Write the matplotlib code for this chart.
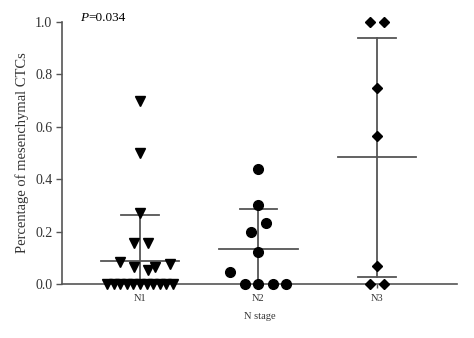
import matplotlib
matplotlib.use('Agg')
import matplotlib.pyplot as plt

groups = ['N1', 'N2', 'N3']

# individual points: (x offset within group, value)
n1_offsets = [0, 0, 0, -0.05, 0.07, -0.17, -0.05, 0.07, 0.13, 0.25,
              -0.28, -0.22, -0.17, -0.11, -0.06, 0, 0.06, 0.11, 0.17, 0.22, 0.28]
n1_values = [0.70, 0.50, 0.27, 0.155, 0.155, 0.083, 0.066, 0.053, 0.066, 0.076,
             0, 0, 0, 0, 0, 0, 0, 0, 0, 0, 0]
n2_offsets = [0, 0, 0.06, -0.06, 0, -0.24, -0.11, 0, 0.12, 0.23]
n2_values = [0.44, 0.30, 0.232, 0.20, 0.121, 0.047, 0, 0, 0, 0]
n3_offsets = [-0.06, 0.06, 0, 0, 0, -0.06, 0.06]
n3_values = [1.0, 1.0, 0.75, 0.565, 0.07, 0, 0]

means = [0.089, 0.132, 0.483]
sd_upper = [0.265, 0.287, 0.94]
sd_lower = [0.0, 0.0, 0.025]

fig = plt.figure(figsize=(4.74, 3.38), dpi=100)
ax = fig.add_axes([62 / 474, 1 - 284 / 338, (457 - 62) / 474, (284 - 22) / 338])

plt.rcParams['font.family'] = ['Liberation Serif', 'DejaVu Serif']
line_col = '#555555'
text_col = '#333333'

for i in range(3):
    x = i + 1
    ax.plot([x, x], [sd_lower[i], sd_upper[i]], color=line_col, lw=1.3, zorder=2)
    ax.plot([x - 0.33, x + 0.33], [means[i], means[i]], color=line_col, lw=1.3, zorder=2)
    ax.plot([x - 0.16, x + 0.16], [sd_upper[i], sd_upper[i]], color=line_col, lw=1.3, zorder=2)
    if sd_lower[i] > 0:
        ax.plot([x - 0.16, x + 0.16], [sd_lower[i], sd_lower[i]], color=line_col, lw=1.3, zorder=2)

ax.plot([1 + o for o in n1_offsets], n1_values, 'v', color='black', ms=6.5,
        clip_on=False, zorder=3, ls='none')
ax.plot([2 + o for o in n2_offsets], n2_values, 'o', color='black', ms=7,
        clip_on=False, zorder=3, ls='none')
ax.plot([3 + o for o in n3_offsets], n3_values, 'D', color='black', ms=5,
        clip_on=False, zorder=3, ls='none')

ax.set_xlim(0.342, 3.675)
ax.set_ylim(0, 1.0)
ax.set_xticks([1, 2, 3])
ax.set_xticklabels(groups, fontsize=7.5, family='Liberation Serif', color=text_col)
ax.set_yticks([0, 0.2, 0.4, 0.6, 0.8, 1.0])
ax.set_yticklabels(['0.0', '0.2', '0.4', '0.6', '0.8', '1.0'], fontsize=10,
                   family='Liberation Serif', color=text_col)
ax.tick_params(axis='y', length=4, width=1, color=line_col, pad=3)
ax.tick_params(axis='x', length=3, width=1, color=line_col, pad=4)

for s in ['top', 'right']:
    ax.spines[s].set_visible(False)
for s in ['left', 'bottom']:
    ax.spines[s].set_color(line_col)
    ax.spines[s].set_linewidth(1.2)

ax.set_ylabel('Percentage of mesenchymal CTCs', fontsize=10.5, family='Liberation Serif',
              labelpad=4, color=text_col)
ax.set_xlabel('N stage', fontsize=7.5, family='Liberation Serif', labelpad=7,
              color=text_col)

ax.text(0.046, 1.015, 'P', transform=ax.transAxes, fontsize=9.5,
        family='Liberation Serif', style='italic', va='center', ha='left')
ax.text(0.066, 1.015, '=0.034', transform=ax.transAxes, fontsize=9.5,
        family='Liberation Serif', va='center', ha='left')

fig.savefig('out.png', dpi=100)
